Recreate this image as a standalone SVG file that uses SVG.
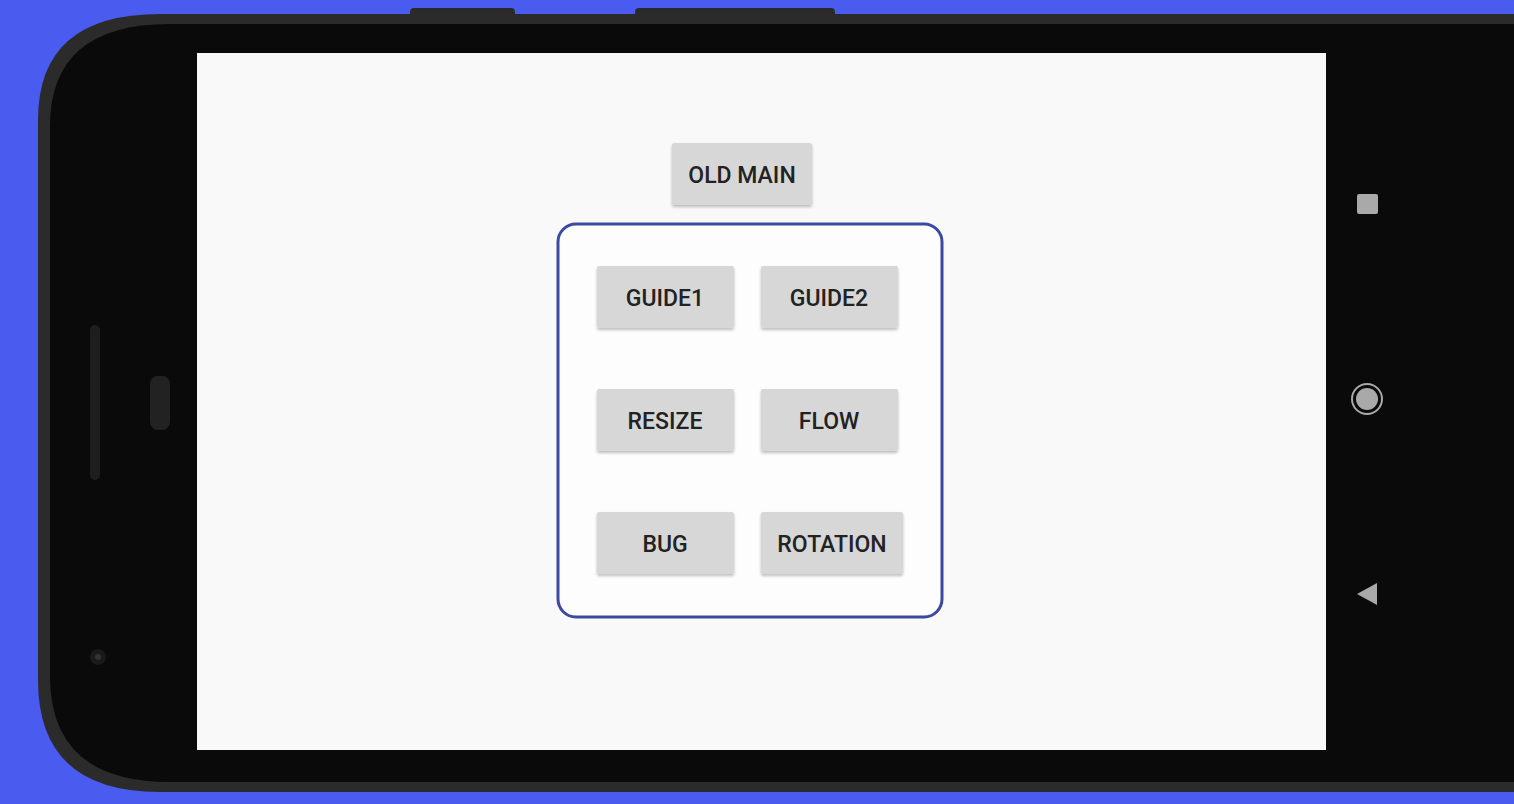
<svg xmlns="http://www.w3.org/2000/svg" width="1514" height="804" viewBox="0 0 1514 804">
<style>
.btn rect.b{fill:#d7d7d7;filter:url(#sh)}
.btn text{font-family:Roboto,"Liberation Sans",sans-serif;font-size:23px;font-weight:500;fill:#222;text-anchor:middle}
</style>
<defs>
<filter id="sh" x="-10%" y="-10%" width="130%" height="140%"><feDropShadow dx="0" dy="2" stdDeviation="1.5" flood-color="#000" flood-opacity="0.25"/></filter>
</defs>
<rect width="1514" height="804" fill="#4a5cf0"/>
<rect x="410" y="8" width="105" height="10" rx="4" fill="#2a2a2a"/>
<rect x="635" y="8" width="200" height="10" rx="4" fill="#2a2a2a"/>
<path d="M160,14 H1514 V792 H160 Q38,792 38,680 V120 Q38,14 160,14 Z" fill="#2b2b2b"/>
<path d="M170,24 H1514 V782 H170 Q50,782 50,676 V126 Q50,24 170,24 Z" fill="#0a0a0a"/>
<rect x="197" y="53" width="1129" height="697" fill="#f8f9f8"/>
<rect x="90" y="325" width="10" height="155" rx="5" fill="#1e1e1e"/>
<rect x="150" y="376" width="20" height="54" rx="8" fill="#222"/>
<circle cx="98" cy="657" r="8" fill="#1a1a1a"/>
<circle cx="98" cy="657" r="3" fill="#333"/>
<rect x="1357" y="194" width="21" height="20" rx="2" fill="#a9a9a9"/>
<circle cx="1367" cy="399" r="15" fill="none" stroke="#a9a9a9" stroke-width="2"/>
<circle cx="1367" cy="399" r="11" fill="#a9a9a9"/>
<polygon points="1377,583 1377,605 1357,594" fill="#a9a9a9"/>
<g id="container"><rect x="558" y="224" width="384" height="393" rx="18" fill="#fdfdfd" stroke="#3b4aa0" stroke-width="3"/></g>
<g id="oldmain" class="btn"><rect class="b" x="672" y="143" width="140" height="62" rx="2"/><text x="742" y="183">OLD MAIN</text></g>
<g id="guide1" class="btn"><rect class="b" x="597" y="266" width="137" height="62" rx="2"/><text x="665" y="306">GUIDE1</text></g>
<g id="guide2" class="btn"><rect class="b" x="761" y="266" width="137" height="62" rx="2"/><text x="829" y="306">GUIDE2</text></g>
<g id="resize" class="btn"><rect class="b" x="597" y="389" width="137" height="62" rx="2"/><text x="665" y="429">RESIZE</text></g>
<g id="flow" class="btn"><rect class="b" x="761" y="389" width="137" height="62" rx="2"/><text x="829" y="429">FLOW</text></g>
<g id="bug" class="btn"><rect class="b" x="597" y="512" width="137" height="62" rx="2"/><text x="665" y="552">BUG</text></g>
<g id="rotation" class="btn"><rect class="b" x="761" y="512" width="142" height="62" rx="2"/><text x="832" y="552">ROTATION</text></g>
<g id="connectors"/>
</svg>
